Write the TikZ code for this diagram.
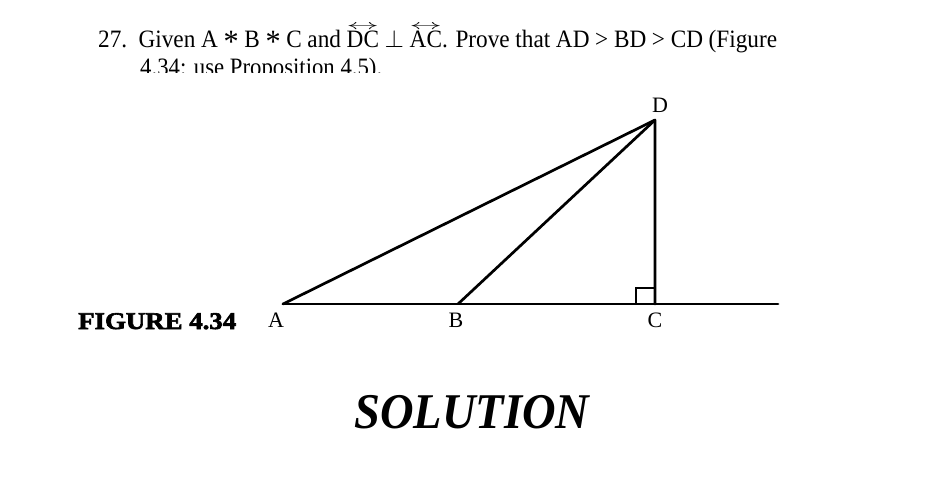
\documentclass[tikz,border=0pt]{standalone}
\usepackage{amsmath}
\usepackage{fontspec}
\setmainfont{Liberation Serif}
\newfontfamily\narrowfont[FakeStretch=0.93]{Liberation Serif}
\newfontfamily\heavyfont[FakeBold=2.5]{Liberation Serif Bold}
\usepackage{graphicx}
\newcommand\lrline[1]{\leavevmode\setbox0\hbox{#1}\rlap{\raisebox{\dimexpr\ht0+0.5pt\relax}{\resizebox{\wd0}{5pt}{$\leftrightarrow$}}}\box0\relax}
\newcommand\astx{\raisebox{-0.22em}{\scalebox{1.3}{*}}}
\begin{document}
\begin{tikzpicture}[x=1pt,y=-1pt,
  seg/.style={line width=2.7pt,line cap=round,line join=round},
  lbl/.style={inner sep=0pt,font=\fontsize{22}{22}\selectfont},
  txt/.style={inner sep=0pt,anchor=base west,font=\narrowfont\fontsize{25}{28}\selectfont}]
\useasboundingbox (0,0) rectangle (951,482);
% problem statement
\begin{scope}
\clip (0,0) rectangle (951,72);
\node[txt] (l1) at (98,47) {\makebox[679pt][s]{27.\ \ Given A \astx{} B \astx{} C and \lrline{DC} $\perp$ \lrline{AC}. Prove that AD > BD > CD (Figure}};
\node[txt] (l2) at (140,75) {\resizebox{242pt}{\height}{4.34: use Proposition 4.5).}};
\end{scope}
% figure
\coordinate (A) at (283,304);
\coordinate (B) at (458,304);
\coordinate (C) at (655,304);
\coordinate (D) at (655,120);
\coordinate (E) at (778,304);
\draw[seg] (A) -- (E);
\draw[seg] (A) -- (D) -- (C);
\draw[seg] (B) -- (D);
\draw[line width=1.3pt] ([xshift=-19pt]C) |- ([yshift=16pt]C);
\node[lbl,anchor=base] (Dl) at (660,112) {D};
\node[lbl,anchor=base] (Al) at (276,327) {A};
\node[lbl,anchor=base] (Bl) at (456,327) {B};
\node[lbl,anchor=base] (Cl) at (655,327) {C};
\node[inner sep=0pt,anchor=base west] (fig) at (78,329) {\resizebox{158pt}{\height}{\heavyfont\fontsize{24}{24}\selectfont FIGURE 4.34}};
\node[inner sep=0pt,anchor=base] (sol) at (472,428) {\resizebox{235pt}{\height}{\fontsize{50}{50}\selectfont\bfseries\itshape SOLUTION}};
\end{tikzpicture}
\end{document}
